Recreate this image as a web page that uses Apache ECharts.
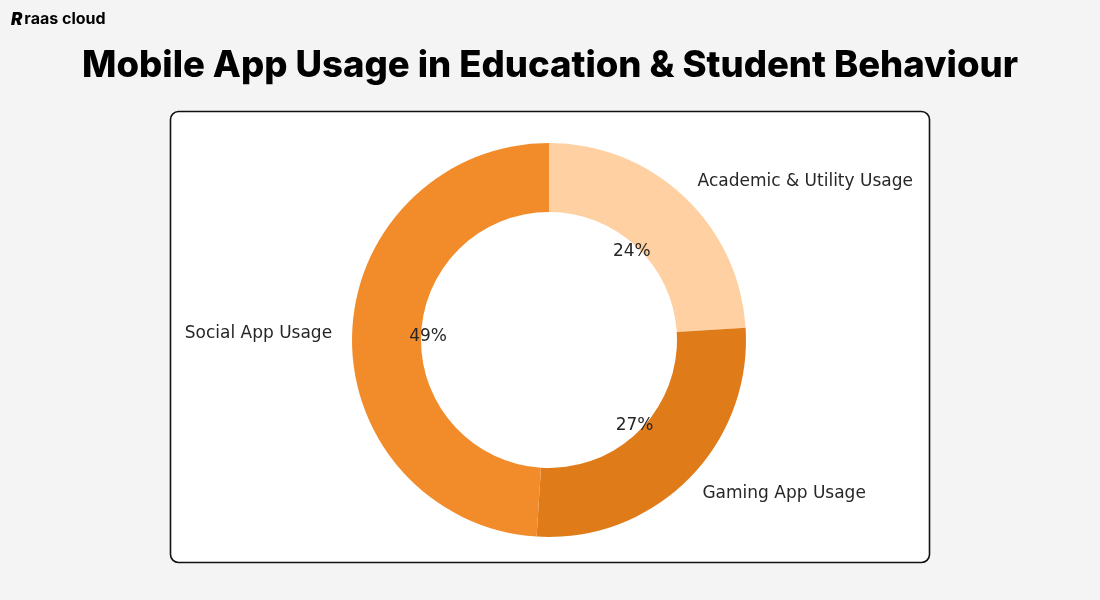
<!DOCTYPE html>
<html>
<head>
<meta charset="utf-8">
<script src="https://cdn.jsdelivr.net/npm/echarts@6/dist/echarts.min.js"></script>
<style>
  html, body { margin: 0; padding: 0; background: #f4f4f4; }
  #id-div-chart { width: 1100px; height: 600px; }
</style>
</head>
<body>
<div id="id-div-chart"></div>
<script>
var log = console.log.bind(console)

var e = (selector) => document.querySelector(selector)

// 数据
var categories = ['Academic & Utility Usage', 'Gaming App Usage', 'Social App Usage']
var shares = [24, 27, 49]
var sliceColors = ['#ffd0a1', '#e07b1a', '#f28c2a']

var center = [549, 340]

var labelFont = {
    fontFamily: "'DejaVu Sans', sans-serif",
    fontSize: 17,
    color: '#262626',
}

var donutData = function() {
    var list = []
    for (var i = 0; i < categories.length; i++) {
        list.push({
            name: categories[i],
            value: shares[i],
            itemStyle: { color: sliceColors[i] },
        })
    }
    return list
}

var option = {
    backgroundColor: '#f4f4f4',
    animation: false,
    graphic: [
        {
            type: 'rect',
            shape: { x: 170.5, y: 111.5, width: 759, height: 451, r: 8 },
            style: { fill: '#ffffff', stroke: '#111111', lineWidth: 1.6 },
            z: -10,
        },
        {
            type: 'text',
            left: 'center',
            top: 48,
            style: {
                text: 'Mobile App Usage in Education & Student Behaviour',
                fontFamily: 'Inter',
                fontWeight: 800,
                fontSize: 36.5,
                fill: '#000000',
            },
        },
        {
            type: 'text',
            x: 11,
            y: 11,
            style: {
                text: '{r|R}{t|raas cloud}',
                rich: {
                    r: { fontFamily: 'Inter', fontWeight: 900, fontSize: 17, fontStyle: 'italic', color: '#f28c1a' },
                    t: { fontFamily: 'Inter', fontWeight: 700, fontSize: 16, color: '#111111', padding: [0, 0, 0, 2] },
                },
            },
        },
    ],
    series: [
        {
            // 环形 + 类别标签
            type: 'pie',
            silent: true,
            center: center,
            radius: [128, 197],
            startAngle: 90,
            clockwise: true,
            avoidLabelOverlap: false,
            label: Object.assign({ show: true, position: 'outside', formatter: '{b}', distanceToLabelLine: 0 }, labelFont),
            labelLine: { show: false, length: 20, length2: 0 },
            data: donutData(),
        },
        {
            // 百分比标签
            type: 'pie',
            silent: true,
            center: center,
            radius: [0, 236],
            startAngle: 90,
            clockwise: true,
            itemStyle: { color: 'transparent' },
            label: Object.assign({ show: true, position: 'inside', formatter: '{c}%' }, labelFont),
            labelLine: { show: false },
            data: donutData().map((d) => ({ name: d.name, value: d.value })),
            z: 5,
        },
    ],
}

var __main = function() {
    var chart = echarts.init(e('#id-div-chart'))
    chart.setOption(option)
}

__main()
</script>
</body>
</html>
